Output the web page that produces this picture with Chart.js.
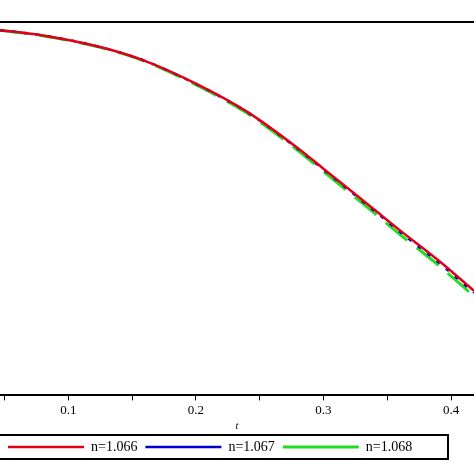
<!DOCTYPE html>
<html>
<head>
<script src="https://cdn.jsdelivr.net/npm/chart.js@4"></script>
<style>body{margin:0;background:#fff}</style>
</head>
<body>
<canvas id="canvas" width="474" height="474"></canvas>
<script>
const canvas = document.getElementById("canvas");

const tValues = [0.0465, 0.08, 0.125, 0.16, 0.2, 0.24, 0.28, 0.3, 0.34, 0.36, 0.39, 0.418];
const n1066 = [0.978, 0.964, 0.933, 0.896, 0.835, 0.760, 0.662, 0.607, 0.497, 0.442, 0.362, 0.280];
const n1067 = [0.978, 0.964, 0.933, 0.896, 0.834, 0.759, 0.660, 0.605, 0.494, 0.438, 0.357, 0.275];
const n1068 = [0.978, 0.963, 0.932, 0.895, 0.832, 0.756, 0.656, 0.600, 0.488, 0.431, 0.349, 0.266];
const xTicks = [0.05, 0.1, 0.15, 0.2, 0.25, 0.3, 0.35, 0.4];

const pts = (ys) => tValues.map((t, i) => ({ x: t, y: ys[i] }));

const frame = {
	id: "frame",
	afterDraw(chart) {
		const { ctx, chartArea } = chart;
		ctx.save();
		ctx.strokeStyle = "#000";
		ctx.lineWidth = 2;
		ctx.beginPath();
		ctx.moveTo(0, chartArea.top);
		ctx.lineTo(474, chartArea.top);
		ctx.stroke();
		const lg = chart.legend;
		ctx.strokeRect(-2, lg.top + 3, 450, lg.height - 8);
		ctx.restore();
	},
};

new Chart(canvas, {
	type: "line",
	data: {
		datasets: [
			{ label: "n=1.066", data: pts(n1066), borderColor: "#e0001a", borderWidth: 2.5, pointStyle: "line" },
			{ label: "n=1.067", data: pts(n1067), borderColor: "#0000d0", borderWidth: 2.5, borderDash: [4, 8], pointStyle: "line" },
			{ label: "n=1.068", data: pts(n1068), borderColor: "#22dd22", borderWidth: 3, borderDash: [28, 12], pointStyle: "line" },
		],
	},
	options: {
		responsive: false,
		animation: false,
		elements: { point: { radius: 0 }, line: { cubicInterpolationMode: "monotone" } },
		layout: { padding: { top: 22, left: 0, right: 0, bottom: 10 } },
		plugins: {
			tooltip: { enabled: false },
			legend: {
				position: "bottom",
				align: "start",
				labels: {
					color: "#000",
					font: { family: "Liberation Serif", size: 14 },
					usePointStyle: true,
					pointStyleWidth: 76,
					boxHeight: 14,
					padding: 8,
				},
			},
		},
		scales: {
			x: {
				type: "linear",
				min: 0.0465,
				max: 0.418,
				afterBuildTicks: (s) => { s.ticks = xTicks.map((v) => ({ value: v })); },
				ticks: {
					color: "#000",
					font: { family: "Liberation Serif", size: 13 },
					maxRotation: 0,
					padding: 2,
					callback: (v) => (Math.round(v * 100) % 10 === 0 ? (Math.round(v * 10) / 10).toFixed(1) : ""),
				},
				grid: { drawOnChartArea: false, color: "#000", tickLength: 5 },
				border: { color: "#000", width: 2 },
				title: { display: true, text: "t", color: "#000", font: { family: "Liberation Serif", size: 10, style: "italic" }, padding: 0 },
			},
			y: { display: false, min: 0, max: 1 },
		},
	},
	plugins: [frame],
});
</script>
</body>
</html>
